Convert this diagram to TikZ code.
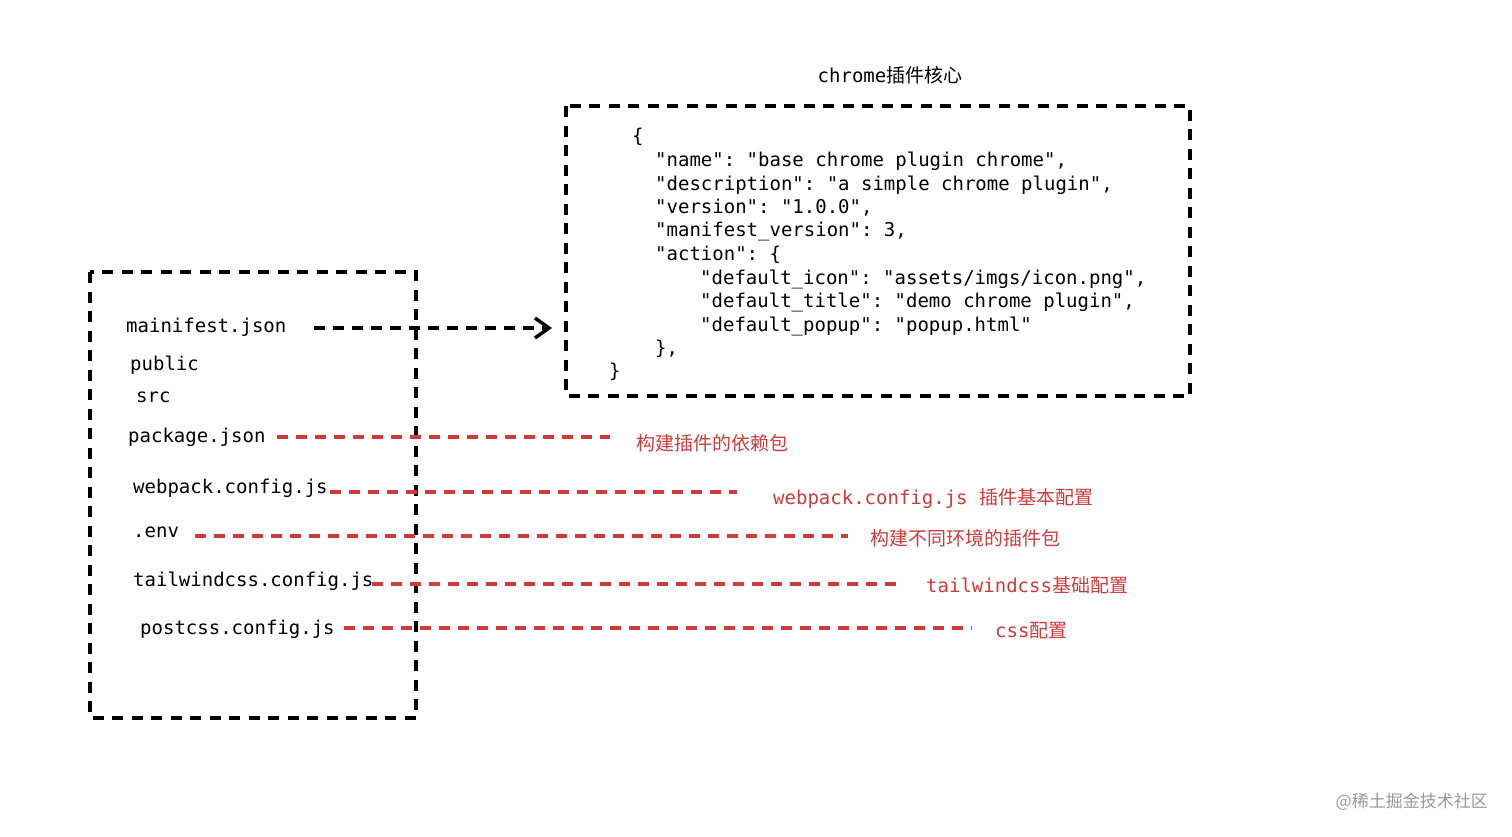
\documentclass[tikz,border=0pt]{standalone}
\usepackage{fontspec}
\setmonofont{DejaVu Sans Mono}
\newfontfamily\cjk{Noto Sans CJK SC}
\usetikzlibrary{arrows.meta}
\definecolor{rd}{RGB}{208,58,58}
\begin{document}
\begin{tikzpicture}[x=1pt,y=-1pt,
  box/.style={draw=black,line width=4,dash pattern=on 11 off 8.5},
  bl/.style={black,line width=4,dash pattern=on 11 off 8},
  rl/.style={rd,line width=4,dash pattern=on 11 off 8},
  ft/.style={anchor=west,inner sep=0,font=\fontsize{19}{20}\ttfamily},
  rt/.style={anchor=west,inner sep=0,text=rd,font=\fontsize{19}{20}\ttfamily}]
\useasboundingbox (0,0) rectangle (1512,836);
\draw[box] (90,272) rectangle (416,718);
\draw[box] (566,106) rectangle (1190,396);
\node[anchor=center,inner sep=0,font=\fontsize{19}{20}\ttfamily] (title) at (890,75) {chrome{\cjk 插件核心}};
\node[ft] (m) at (126,327) {mainifest.json};
\node[ft] at (130,365) {public};
\node[ft] at (136,397) {src};
\node[ft] (p) at (128,437) {package.json};
\node[ft] (w) at (133,488) {webpack.config.js};
\node[ft] (e) at (133,532) {.env};
\node[ft] (t) at (133,581) {tailwindcss.config.js};
\node[ft] (c) at (140,629) {postcss.config.js};
\node[ft] at (632,137) {\{};
\node[ft] at (655,161) {"name": "base chrome plugin chrome",};
\node[ft] at (655,185) {"description": "a simple chrome plugin",};
\node[ft] at (655,208) {"version": "1.0.0",};
\node[ft] at (655,232) {"manifest\_version": 3,};
\node[ft] at (655,255) {"action": \{};
\node[ft] at (700,279) {"default\_icon": "assets/imgs/icon.png",};
\node[ft] at (700,302) {"default\_title": "demo chrome plugin",};
\node[ft] at (700,326) {"default\_popup": "popup.html"};
\node[ft] at (655,349) {\},};
\node[ft] at (609,372) {\}};
\coordinate (a1) at (314,328); \coordinate (a2) at (552,328);
\draw[bl,-{Straight Barb[length=14,width=20,line width=3.5]}] (a1) -- (a2);
\node[rt] (l1) at (636,443) {\cjk 构建插件的依赖包};
\node[rt] (l2) at (773,499) {webpack.config.js {\cjk 插件基本配置}};
\node[rt] (l3) at (870,538) {\cjk 构建不同环境的插件包};
\node[rt] (l4) at (926,585) {tailwindcss{\cjk 基础配置}};
\node[rt] (l5) at (995,631) {css{\cjk 配置}};
\coordinate (r1a) at (277,437); \coordinate (r1b) at (610,437);
\coordinate (r2a) at (330,492); \coordinate (r2b) at (737,492);
\coordinate (r3a) at (195,536); \coordinate (r3b) at (848,536);
\coordinate (r4a) at (372,584); \coordinate (r4b) at (902,584);
\coordinate (r5a) at (344,628); \coordinate (r5b) at (972,628);
\draw[rl] (r1a) -- (r1b);
\draw[rl] (r2a) -- (r2b);
\draw[rl] (r3a) -- (r3b);
\draw[rl] (r4a) -- (r4b);
\draw[rl] (r5a) -- (r5b);
\node[anchor=east,inner sep=0,text=gray!80,font=\fontsize{17}{18}\cjk] (wm) at (1488,802) {@稀土掘金技术社区};
\end{tikzpicture}
\end{document}
